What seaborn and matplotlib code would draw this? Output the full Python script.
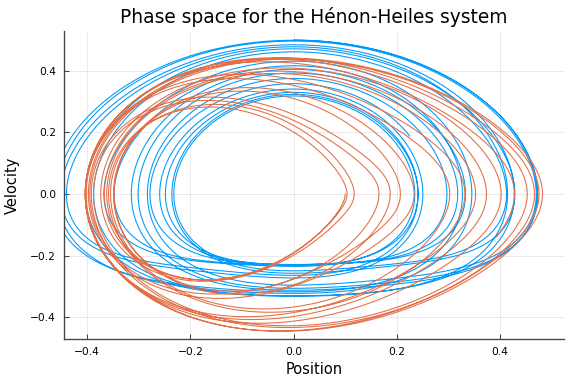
"""Phase space plot for the Henon-Heiles system."""
import numpy as np
import matplotlib
matplotlib.use("Agg")
import matplotlib.pyplot as plt
import seaborn as sns

# initial state and time span (curve start points)
initial_position = [0.0, 0.1]   # x, y
initial_velocity = [0.5, 0.0]   # dx, dy
tspan = [0.0, 100.0]
dt = 0.005

x_ticks = [-0.4, -0.2, 0.0, 0.2, 0.4]
y_ticks = [-0.4, -0.2, 0.0, 0.2, 0.4]
x_limits = [-0.445, 0.524]
y_limits = [-0.471, 0.529]

BLUE = "#009AFA"
ORANGE = "#E36F47"


def accel(q):
    x, y = q
    return np.array([-x - 2 * x * y, y * y - y - x * x])


def solve():
    q = np.array(initial_position, dtype=float)
    v = np.array(initial_velocity, dtype=float)
    n = int(round((tspan[1] - tspan[0]) / dt))
    qs = [q.copy()]
    vs = [v.copy()]
    for _ in range(n):
        k1q, k1v = v, accel(q)
        k2q, k2v = v + 0.5 * dt * k1v, accel(q + 0.5 * dt * k1q)
        k3q, k3v = v + 0.5 * dt * k2v, accel(q + 0.5 * dt * k2q)
        k4q, k4v = v + dt * k3v, accel(q + dt * k3q)
        q = q + dt / 6 * (k1q + 2 * k2q + 2 * k3q + k4q)
        v = v + dt / 6 * (k1v + 2 * k2v + 2 * k3v + k4v)
        qs.append(q.copy())
        vs.append(v.copy())
    return np.array(qs), np.array(vs)


def main():
    qs, vs = solve()
    sns.set_style("white")
    plt.rcParams["text.color"] = "black"
    plt.rcParams["axes.labelcolor"] = "black"
    fig = plt.figure(figsize=(6, 4), dpi=96)
    ax = fig.add_axes([0.111, 0.117, 0.868, 0.802])
    sns.lineplot(x=qs[:, 0], y=vs[:, 0], sort=False, estimator=None,
                 color=BLUE, linewidth=0.8, ax=ax)
    sns.lineplot(x=qs[:, 1], y=vs[:, 1], sort=False, estimator=None,
                 color=ORANGE, linewidth=0.8, ax=ax)
    ax.set_xlim(x_limits)
    ax.set_ylim(y_limits)
    ax.set_xticks(x_ticks)
    ax.set_yticks(y_ticks)
    ax.set_xticklabels([f"{t:.1f}".replace("-", "\u2212") for t in x_ticks])
    ax.set_yticklabels([f"{t:.1f}".replace("-", "\u2212") for t in y_ticks])
    ax.grid(True, color="#000000", alpha=0.1, linewidth=0.6)
    for side in ["top", "right"]:
        ax.spines[side].set_visible(False)
    for side in ["left", "bottom"]:
        ax.spines[side].set_color("#444444")
        ax.spines[side].set_linewidth(1.0)
    ax.tick_params(bottom=True, left=True, direction="in", length=4,
                   width=0.8, color="#444444", labelsize=8,
                   labelcolor="black", pad=6)
    ax.set_title("Phase space for the Hénon-Heiles system", fontsize=14,
                 pad=6, color="black")
    ax.set_xlabel("Position", fontsize=11, labelpad=4)
    ax.set_ylabel("Velocity", fontsize=11, labelpad=8)
    fig.savefig("out.png", dpi=96)
    plt.close(fig)


if __name__ == "__main__":
    main()
